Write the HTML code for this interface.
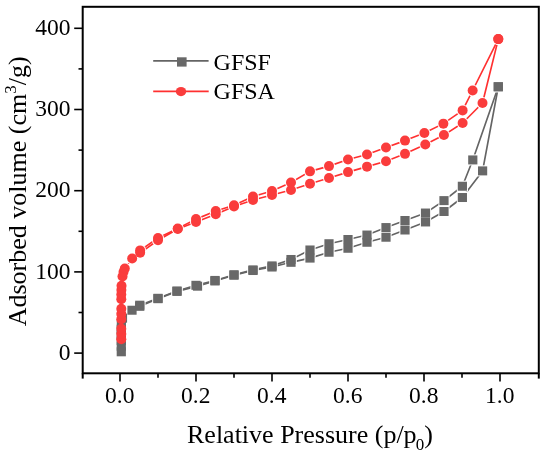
<!DOCTYPE html>
<html><head><meta charset="utf-8"><style>
html,body{margin:0;padding:0;background:#fff;}
body{width:550px;height:457px;overflow:hidden;}
svg{display:block;filter:blur(0.45px);}
text{font-family:"Liberation Serif","Times New Roman",serif;fill:#000;}
.tk{font-size:23.5px;}
.lg{font-size:24px;}
.ti{font-size:26px;}
</style></head><body>
<svg width="550" height="457" viewBox="0 0 550 457">
<rect x="82.7" y="6.8" width="456.1" height="366.5" fill="none" stroke="#000" stroke-width="2"/>
<line x1="74.2" y1="353.10" x2="82.7" y2="353.10" stroke="#000" stroke-width="1.6"/>
<text x="70.4" y="359.80" text-anchor="end" class="tk">0</text>
<line x1="74.2" y1="271.90" x2="82.7" y2="271.90" stroke="#000" stroke-width="1.6"/>
<text x="70.4" y="278.60" text-anchor="end" class="tk">100</text>
<line x1="74.2" y1="190.70" x2="82.7" y2="190.70" stroke="#000" stroke-width="1.6"/>
<text x="70.4" y="197.40" text-anchor="end" class="tk">200</text>
<line x1="74.2" y1="109.50" x2="82.7" y2="109.50" stroke="#000" stroke-width="1.6"/>
<text x="70.4" y="116.20" text-anchor="end" class="tk">300</text>
<line x1="74.2" y1="28.30" x2="82.7" y2="28.30" stroke="#000" stroke-width="1.6"/>
<text x="70.4" y="35.00" text-anchor="end" class="tk">400</text>
<line x1="78.5" y1="312.50" x2="82.7" y2="312.50" stroke="#000" stroke-width="1.6"/>
<line x1="78.5" y1="231.30" x2="82.7" y2="231.30" stroke="#000" stroke-width="1.6"/>
<line x1="78.5" y1="150.10" x2="82.7" y2="150.10" stroke="#000" stroke-width="1.6"/>
<line x1="78.5" y1="68.90" x2="82.7" y2="68.90" stroke="#000" stroke-width="1.6"/>
<line x1="82.70" y1="373.3" x2="82.70" y2="378.6" stroke="#000" stroke-width="2"/>
<line x1="120.00" y1="373.3" x2="120.00" y2="381.5" stroke="#000" stroke-width="1.6"/>
<text x="119.80" y="402.9" text-anchor="middle" class="tk">0.0</text>
<line x1="158.00" y1="373.3" x2="158.00" y2="377.8" stroke="#000" stroke-width="1.6"/>
<line x1="196.00" y1="373.3" x2="196.00" y2="381.5" stroke="#000" stroke-width="1.6"/>
<text x="195.80" y="402.9" text-anchor="middle" class="tk">0.2</text>
<line x1="234.00" y1="373.3" x2="234.00" y2="377.8" stroke="#000" stroke-width="1.6"/>
<line x1="272.00" y1="373.3" x2="272.00" y2="381.5" stroke="#000" stroke-width="1.6"/>
<text x="271.80" y="402.9" text-anchor="middle" class="tk">0.4</text>
<line x1="310.00" y1="373.3" x2="310.00" y2="377.8" stroke="#000" stroke-width="1.6"/>
<line x1="348.00" y1="373.3" x2="348.00" y2="381.5" stroke="#000" stroke-width="1.6"/>
<text x="347.80" y="402.9" text-anchor="middle" class="tk">0.6</text>
<line x1="386.00" y1="373.3" x2="386.00" y2="377.8" stroke="#000" stroke-width="1.6"/>
<line x1="424.00" y1="373.3" x2="424.00" y2="381.5" stroke="#000" stroke-width="1.6"/>
<text x="423.80" y="402.9" text-anchor="middle" class="tk">0.8</text>
<line x1="462.00" y1="373.3" x2="462.00" y2="377.8" stroke="#000" stroke-width="1.6"/>
<line x1="500.00" y1="373.3" x2="500.00" y2="381.5" stroke="#000" stroke-width="1.6"/>
<text x="499.80" y="402.9" text-anchor="middle" class="tk">1.0</text>
<line x1="538.80" y1="373.3" x2="538.80" y2="378.6" stroke="#000" stroke-width="2"/>
<defs><mask id="mg" maskUnits="userSpaceOnUse" x="0" y="0" width="550" height="457"><rect x="0" y="0" width="550" height="457" fill="#fff"/><rect x="115.69" y="346.30" width="11.20" height="11.00" fill="#000"/><rect x="115.69" y="340.70" width="11.20" height="11.00" fill="#000"/><rect x="115.69" y="335.01" width="11.20" height="11.00" fill="#000"/><rect x="115.69" y="329.33" width="11.20" height="11.00" fill="#000"/><rect x="115.69" y="323.65" width="11.20" height="11.00" fill="#000"/><rect x="115.77" y="318.37" width="11.20" height="11.00" fill="#000"/><rect x="116.87" y="312.68" width="11.20" height="11.00" fill="#000"/><rect x="126.41" y="304.73" width="11.20" height="11.00" fill="#000"/><rect x="134.16" y="300.83" width="11.20" height="11.00" fill="#000"/><rect x="152.40" y="293.20" width="11.20" height="11.00" fill="#000"/><rect x="171.40" y="285.89" width="11.20" height="11.00" fill="#000"/><rect x="191.92" y="280.69" width="11.20" height="11.00" fill="#000"/><rect x="209.40" y="275.49" width="11.20" height="11.00" fill="#000"/><rect x="228.40" y="269.73" width="11.20" height="11.00" fill="#000"/><rect x="247.40" y="265.02" width="11.20" height="11.00" fill="#000"/><rect x="266.40" y="261.53" width="11.20" height="11.00" fill="#000"/><rect x="285.40" y="256.82" width="11.20" height="11.00" fill="#000"/><rect x="304.40" y="252.60" width="11.20" height="11.00" fill="#000"/><rect x="323.40" y="246.75" width="11.20" height="11.00" fill="#000"/><rect x="342.40" y="242.77" width="11.20" height="11.00" fill="#000"/><rect x="361.40" y="236.76" width="11.20" height="11.00" fill="#000"/><rect x="380.40" y="231.73" width="11.20" height="11.00" fill="#000"/><rect x="399.40" y="224.50" width="11.20" height="11.00" fill="#000"/><rect x="419.92" y="216.46" width="11.20" height="11.00" fill="#000"/><rect x="438.39" y="205.99" width="11.20" height="11.00" fill="#000"/><rect x="456.78" y="192.02" width="11.20" height="11.00" fill="#000"/><rect x="477.00" y="165.39" width="11.20" height="11.00" fill="#000"/><rect x="492.69" y="81.26" width="11.20" height="11.00" fill="#000"/><rect x="492.69" y="81.26" width="11.20" height="11.00" fill="#000"/><rect x="467.19" y="154.43" width="11.20" height="11.00" fill="#000"/><rect x="456.78" y="180.73" width="11.20" height="11.00" fill="#000"/><rect x="438.39" y="195.11" width="11.20" height="11.00" fill="#000"/><rect x="419.92" y="207.53" width="11.20" height="11.00" fill="#000"/><rect x="399.40" y="215.00" width="11.20" height="11.00" fill="#000"/><rect x="380.40" y="222.06" width="11.20" height="11.00" fill="#000"/><rect x="361.40" y="229.54" width="11.20" height="11.00" fill="#000"/><rect x="342.40" y="234.00" width="11.20" height="11.00" fill="#000"/><rect x="323.40" y="238.22" width="11.20" height="11.00" fill="#000"/><rect x="304.40" y="244.48" width="11.20" height="11.00" fill="#000"/><rect x="285.40" y="253.98" width="11.20" height="11.00" fill="#000"/><rect x="266.40" y="260.39" width="11.20" height="11.00" fill="#000"/><rect x="247.40" y="264.37" width="11.20" height="11.00" fill="#000"/><rect x="228.40" y="269.24" width="11.20" height="11.00" fill="#000"/><rect x="209.40" y="274.93" width="11.20" height="11.00" fill="#000"/><rect x="190.40" y="279.80" width="11.20" height="11.00" fill="#000"/><rect x="171.40" y="285.48" width="11.20" height="11.00" fill="#000"/><rect x="152.40" y="292.79" width="11.20" height="11.00" fill="#000"/><rect x="134.16" y="299.69" width="11.20" height="11.00" fill="#000"/></mask><mask id="mr" maskUnits="userSpaceOnUse" x="0" y="0" width="550" height="457"><rect x="0" y="0" width="550" height="457" fill="#fff"/><circle cx="121.29" cy="339.21" r="6.00" fill="#000"/><circle cx="121.29" cy="334.02" r="6.00" fill="#000"/><circle cx="121.29" cy="328.82" r="6.00" fill="#000"/><circle cx="121.29" cy="319.32" r="6.00" fill="#000"/><circle cx="121.29" cy="313.96" r="6.00" fill="#000"/><circle cx="121.29" cy="308.76" r="6.00" fill="#000"/><circle cx="121.29" cy="299.26" r="6.00" fill="#000"/><circle cx="121.29" cy="294.47" r="6.00" fill="#000"/><circle cx="121.37" cy="290.01" r="6.00" fill="#000"/><circle cx="121.52" cy="285.87" r="6.00" fill="#000"/><circle cx="122.51" cy="276.53" r="6.00" fill="#000"/><circle cx="123.50" cy="271.98" r="6.00" fill="#000"/><circle cx="124.79" cy="268.49" r="6.00" fill="#000"/><circle cx="132.16" cy="258.50" r="6.00" fill="#000"/><circle cx="140.14" cy="252.82" r="6.00" fill="#000"/><circle cx="158.00" cy="240.23" r="6.00" fill="#000"/><circle cx="177.76" cy="229.03" r="6.00" fill="#000"/><circle cx="196.00" cy="221.96" r="6.00" fill="#000"/><circle cx="215.76" cy="214.25" r="6.00" fill="#000"/><circle cx="234.00" cy="206.53" r="6.00" fill="#000"/><circle cx="253.00" cy="200.04" r="6.00" fill="#000"/><circle cx="272.00" cy="195.00" r="6.00" fill="#000"/><circle cx="291.00" cy="189.97" r="6.00" fill="#000"/><circle cx="310.00" cy="183.80" r="6.00" fill="#000"/><circle cx="329.00" cy="178.03" r="6.00" fill="#000"/><circle cx="348.00" cy="172.11" r="6.00" fill="#000"/><circle cx="367.00" cy="166.66" r="6.00" fill="#000"/><circle cx="386.00" cy="161.22" r="6.00" fill="#000"/><circle cx="405.00" cy="153.84" r="6.00" fill="#000"/><circle cx="425.29" cy="144.42" r="6.00" fill="#000"/><circle cx="443.91" cy="135.08" r="6.00" fill="#000"/><circle cx="462.61" cy="122.98" r="6.00" fill="#000"/><circle cx="482.52" cy="103.00" r="6.00" fill="#000"/><circle cx="498.29" cy="39.10" r="6.00" fill="#000"/><circle cx="498.29" cy="39.10" r="6.00" fill="#000"/><circle cx="472.64" cy="90.50" r="6.00" fill="#000"/><circle cx="462.61" cy="110.39" r="6.00" fill="#000"/><circle cx="443.38" cy="123.63" r="6.00" fill="#000"/><circle cx="424.38" cy="132.97" r="6.00" fill="#000"/><circle cx="405.00" cy="140.60" r="6.00" fill="#000"/><circle cx="386.00" cy="147.50" r="6.00" fill="#000"/><circle cx="367.00" cy="154.48" r="6.00" fill="#000"/><circle cx="348.00" cy="159.52" r="6.00" fill="#000"/><circle cx="329.00" cy="166.10" r="6.00" fill="#000"/><circle cx="310.00" cy="171.37" r="6.00" fill="#000"/><circle cx="291.00" cy="182.58" r="6.00" fill="#000"/><circle cx="272.00" cy="191.02" r="6.00" fill="#000"/><circle cx="253.00" cy="196.55" r="6.00" fill="#000"/><circle cx="234.00" cy="205.32" r="6.00" fill="#000"/><circle cx="215.76" cy="211.00" r="6.00" fill="#000"/><circle cx="196.00" cy="219.12" r="6.00" fill="#000"/><circle cx="177.76" cy="228.46" r="6.00" fill="#000"/><circle cx="158.00" cy="237.96" r="6.00" fill="#000"/><circle cx="140.14" cy="250.38" r="6.00" fill="#000"/></mask></defs>
<g mask="url(#mg)"><polyline points="121.29,351.80 121.29,346.20 121.29,340.51 121.29,334.83 121.29,329.15 121.37,323.87 122.47,318.18 132.01,310.23 139.76,306.33 158.00,298.70 177.00,291.39 197.52,286.19 215.00,280.99 234.00,275.23 253.00,270.52 272.00,267.03 291.00,262.32 310.00,258.10 329.00,252.25 348.00,248.27 367.00,242.26 386.00,237.23 405.00,230.00 425.52,221.96 443.99,211.49 462.38,197.52 482.60,170.89 498.29,86.76" fill="none" stroke="#646464" stroke-width="1.65" stroke-linejoin="round"/><polyline points="498.29,86.76 472.79,159.93 462.38,186.23 443.99,200.61 425.52,213.03 405.00,220.50 386.00,227.56 367.00,235.04 348.00,239.50 329.00,243.72 310.00,249.98 291.00,259.48 272.00,265.89 253.00,269.87 234.00,274.74 215.00,280.43 196.00,285.30 177.00,290.98 158.00,298.29 139.76,305.19" fill="none" stroke="#646464" stroke-width="1.65" stroke-linejoin="round"/></g>
<rect x="116.69" y="347.30" width="9.2" height="9.0" fill="#686868"/><rect x="116.69" y="341.70" width="9.2" height="9.0" fill="#686868"/><rect x="116.69" y="336.01" width="9.2" height="9.0" fill="#686868"/><rect x="116.69" y="330.33" width="9.2" height="9.0" fill="#686868"/><rect x="116.69" y="324.65" width="9.2" height="9.0" fill="#686868"/><rect x="116.77" y="319.37" width="9.2" height="9.0" fill="#686868"/><rect x="117.87" y="313.68" width="9.2" height="9.0" fill="#686868"/><rect x="127.41" y="305.73" width="9.2" height="9.0" fill="#686868"/><rect x="135.16" y="301.83" width="9.2" height="9.0" fill="#686868"/><rect x="153.40" y="294.20" width="9.2" height="9.0" fill="#686868"/><rect x="172.40" y="286.89" width="9.2" height="9.0" fill="#686868"/><rect x="192.92" y="281.69" width="9.2" height="9.0" fill="#686868"/><rect x="210.40" y="276.49" width="9.2" height="9.0" fill="#686868"/><rect x="229.40" y="270.73" width="9.2" height="9.0" fill="#686868"/><rect x="248.40" y="266.02" width="9.2" height="9.0" fill="#686868"/><rect x="267.40" y="262.53" width="9.2" height="9.0" fill="#686868"/><rect x="286.40" y="257.82" width="9.2" height="9.0" fill="#686868"/><rect x="305.40" y="253.60" width="9.2" height="9.0" fill="#686868"/><rect x="324.40" y="247.75" width="9.2" height="9.0" fill="#686868"/><rect x="343.40" y="243.77" width="9.2" height="9.0" fill="#686868"/><rect x="362.40" y="237.76" width="9.2" height="9.0" fill="#686868"/><rect x="381.40" y="232.73" width="9.2" height="9.0" fill="#686868"/><rect x="400.40" y="225.50" width="9.2" height="9.0" fill="#686868"/><rect x="420.92" y="217.46" width="9.2" height="9.0" fill="#686868"/><rect x="439.39" y="206.99" width="9.2" height="9.0" fill="#686868"/><rect x="457.78" y="193.02" width="9.2" height="9.0" fill="#686868"/><rect x="478.00" y="166.39" width="9.2" height="9.0" fill="#686868"/><rect x="493.69" y="82.26" width="9.2" height="9.0" fill="#686868"/>
<rect x="493.69" y="82.26" width="9.2" height="9.0" fill="#686868"/><rect x="468.19" y="155.43" width="9.2" height="9.0" fill="#686868"/><rect x="457.78" y="181.73" width="9.2" height="9.0" fill="#686868"/><rect x="439.39" y="196.11" width="9.2" height="9.0" fill="#686868"/><rect x="420.92" y="208.53" width="9.2" height="9.0" fill="#686868"/><rect x="400.40" y="216.00" width="9.2" height="9.0" fill="#686868"/><rect x="381.40" y="223.06" width="9.2" height="9.0" fill="#686868"/><rect x="362.40" y="230.54" width="9.2" height="9.0" fill="#686868"/><rect x="343.40" y="235.00" width="9.2" height="9.0" fill="#686868"/><rect x="324.40" y="239.22" width="9.2" height="9.0" fill="#686868"/><rect x="305.40" y="245.48" width="9.2" height="9.0" fill="#686868"/><rect x="286.40" y="254.98" width="9.2" height="9.0" fill="#686868"/><rect x="267.40" y="261.39" width="9.2" height="9.0" fill="#686868"/><rect x="248.40" y="265.37" width="9.2" height="9.0" fill="#686868"/><rect x="229.40" y="270.24" width="9.2" height="9.0" fill="#686868"/><rect x="210.40" y="275.93" width="9.2" height="9.0" fill="#686868"/><rect x="191.40" y="280.80" width="9.2" height="9.0" fill="#686868"/><rect x="172.40" y="286.48" width="9.2" height="9.0" fill="#686868"/><rect x="153.40" y="293.79" width="9.2" height="9.0" fill="#686868"/><rect x="135.16" y="300.69" width="9.2" height="9.0" fill="#686868"/>
<g mask="url(#mr)"><polyline points="121.29,339.21 121.29,334.02 121.29,328.82 121.29,319.32 121.29,313.96 121.29,308.76 121.29,299.26 121.29,294.47 121.37,290.01 121.52,285.87 122.51,276.53 123.50,271.98 124.79,268.49 132.16,258.50 140.14,252.82 158.00,240.23 177.76,229.03 196.00,221.96 215.76,214.25 234.00,206.53 253.00,200.04 272.00,195.00 291.00,189.97 310.00,183.80 329.00,178.03 348.00,172.11 367.00,166.66 386.00,161.22 405.00,153.84 425.29,144.42 443.91,135.08 462.61,122.98 482.52,103.00 498.29,39.10" fill="none" stroke="#ff3030" stroke-width="1.65" stroke-linejoin="round"/><polyline points="498.29,39.10 472.64,90.50 462.61,110.39 443.38,123.63 424.38,132.97 405.00,140.60 386.00,147.50 367.00,154.48 348.00,159.52 329.00,166.10 310.00,171.37 291.00,182.58 272.00,191.02 253.00,196.55 234.00,205.32 215.76,211.00 196.00,219.12 177.76,228.46 158.00,237.96 140.14,250.38" fill="none" stroke="#ff3030" stroke-width="1.65" stroke-linejoin="round"/></g>
<circle cx="121.29" cy="339.21" r="5.0" fill="#fa3c3c"/><circle cx="121.29" cy="334.02" r="5.0" fill="#fa3c3c"/><circle cx="121.29" cy="328.82" r="5.0" fill="#fa3c3c"/><circle cx="121.29" cy="319.32" r="5.0" fill="#fa3c3c"/><circle cx="121.29" cy="313.96" r="5.0" fill="#fa3c3c"/><circle cx="121.29" cy="308.76" r="5.0" fill="#fa3c3c"/><circle cx="121.29" cy="299.26" r="5.0" fill="#fa3c3c"/><circle cx="121.29" cy="294.47" r="5.0" fill="#fa3c3c"/><circle cx="121.37" cy="290.01" r="5.0" fill="#fa3c3c"/><circle cx="121.52" cy="285.87" r="5.0" fill="#fa3c3c"/><circle cx="122.51" cy="276.53" r="5.0" fill="#fa3c3c"/><circle cx="123.50" cy="271.98" r="5.0" fill="#fa3c3c"/><circle cx="124.79" cy="268.49" r="5.0" fill="#fa3c3c"/><circle cx="132.16" cy="258.50" r="5.0" fill="#fa3c3c"/><circle cx="140.14" cy="252.82" r="5.0" fill="#fa3c3c"/><circle cx="158.00" cy="240.23" r="5.0" fill="#fa3c3c"/><circle cx="177.76" cy="229.03" r="5.0" fill="#fa3c3c"/><circle cx="196.00" cy="221.96" r="5.0" fill="#fa3c3c"/><circle cx="215.76" cy="214.25" r="5.0" fill="#fa3c3c"/><circle cx="234.00" cy="206.53" r="5.0" fill="#fa3c3c"/><circle cx="253.00" cy="200.04" r="5.0" fill="#fa3c3c"/><circle cx="272.00" cy="195.00" r="5.0" fill="#fa3c3c"/><circle cx="291.00" cy="189.97" r="5.0" fill="#fa3c3c"/><circle cx="310.00" cy="183.80" r="5.0" fill="#fa3c3c"/><circle cx="329.00" cy="178.03" r="5.0" fill="#fa3c3c"/><circle cx="348.00" cy="172.11" r="5.0" fill="#fa3c3c"/><circle cx="367.00" cy="166.66" r="5.0" fill="#fa3c3c"/><circle cx="386.00" cy="161.22" r="5.0" fill="#fa3c3c"/><circle cx="405.00" cy="153.84" r="5.0" fill="#fa3c3c"/><circle cx="425.29" cy="144.42" r="5.0" fill="#fa3c3c"/><circle cx="443.91" cy="135.08" r="5.0" fill="#fa3c3c"/><circle cx="462.61" cy="122.98" r="5.0" fill="#fa3c3c"/><circle cx="482.52" cy="103.00" r="5.0" fill="#fa3c3c"/><circle cx="498.29" cy="39.10" r="5.0" fill="#fa3c3c"/>
<circle cx="498.29" cy="39.10" r="5.0" fill="#fa3c3c"/><circle cx="472.64" cy="90.50" r="5.0" fill="#fa3c3c"/><circle cx="462.61" cy="110.39" r="5.0" fill="#fa3c3c"/><circle cx="443.38" cy="123.63" r="5.0" fill="#fa3c3c"/><circle cx="424.38" cy="132.97" r="5.0" fill="#fa3c3c"/><circle cx="405.00" cy="140.60" r="5.0" fill="#fa3c3c"/><circle cx="386.00" cy="147.50" r="5.0" fill="#fa3c3c"/><circle cx="367.00" cy="154.48" r="5.0" fill="#fa3c3c"/><circle cx="348.00" cy="159.52" r="5.0" fill="#fa3c3c"/><circle cx="329.00" cy="166.10" r="5.0" fill="#fa3c3c"/><circle cx="310.00" cy="171.37" r="5.0" fill="#fa3c3c"/><circle cx="291.00" cy="182.58" r="5.0" fill="#fa3c3c"/><circle cx="272.00" cy="191.02" r="5.0" fill="#fa3c3c"/><circle cx="253.00" cy="196.55" r="5.0" fill="#fa3c3c"/><circle cx="234.00" cy="205.32" r="5.0" fill="#fa3c3c"/><circle cx="215.76" cy="211.00" r="5.0" fill="#fa3c3c"/><circle cx="196.00" cy="219.12" r="5.0" fill="#fa3c3c"/><circle cx="177.76" cy="228.46" r="5.0" fill="#fa3c3c"/><circle cx="158.00" cy="237.96" r="5.0" fill="#fa3c3c"/><circle cx="140.14" cy="250.38" r="5.0" fill="#fa3c3c"/>
<line x1="153.2" y1="60.8" x2="208.6" y2="60.8" stroke="#646464" stroke-width="1.8"/>
<rect x="177" y="57.3" width="9.6" height="9.3" fill="#686868"/>
<text x="213.6" y="69.6" class="lg">GFSF</text>
<line x1="153.2" y1="91.3" x2="208.7" y2="91.3" stroke="#ff3030" stroke-width="1.8"/>
<ellipse cx="181" cy="91.6" rx="5.2" ry="4.6" fill="#fa3c3c"/>
<text x="213.6" y="98.7" class="lg">GFSA</text>
<text x="187" y="442.5" class="ti">Relative Pressure (p/p<tspan font-size="17" dx="-0.8" dy="7.5">0</tspan><tspan dy="-7.5">)</tspan></text>
<text transform="translate(26.2,326.3) rotate(-90)" class="ti">Adsorbed volume (cm<tspan font-size="17" dy="-10.5">3</tspan><tspan dy="10.5">/g)</tspan></text>
</svg>
</body></html>
